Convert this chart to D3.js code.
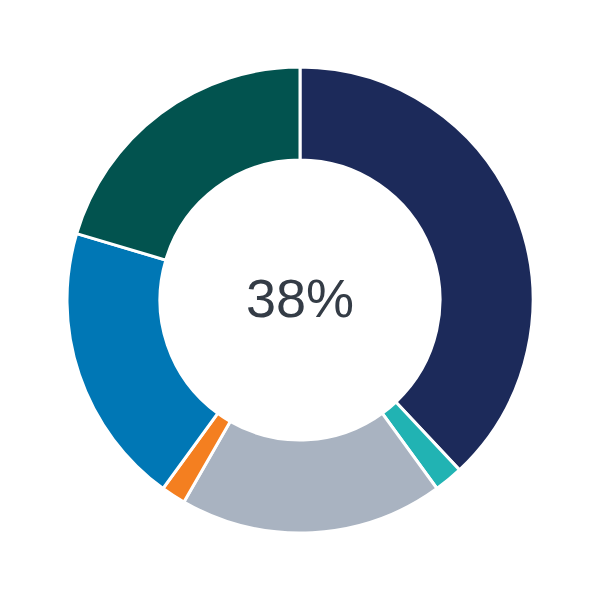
<!DOCTYPE html>
<html><head><meta charset="utf-8">
<script src="https://cdn.jsdelivr.net/npm/d3@7"></script>
<style>body{margin:0;background:#fff}</style>
</head><body>
<svg id="c" width="600" height="600"></svg>
<script>
const categories = ["A","B","C","D","E","F"];
const values = [38, 2, 18.3, 1.7, 19.6, 20.4];
const colors = ["#1c2a5a","#21b3b3","#a9b3c1","#f47f20","#0077b5","#02534f"];
const centerLabel = "38%";

const svg = d3.select("#c");
const g = svg.append("g").attr("transform","translate(300,300)");
const pie = d3.pie().sort(null).value(d=>d.v);
const arc = d3.arc().innerRadius(140).outerRadius(233);
const data = categories.map((c,i)=>({c, v: values[i], col: colors[i]}));
g.selectAll("path").data(pie(data)).join("path")
  .attr("d", arc).attr("fill", d=>d.data.col)
  .attr("stroke","#fff").attr("stroke-width",3);
g.append("text").attr("text-anchor","middle").attr("y",17)
  .attr("font-family","Liberation Sans, Arial, sans-serif").attr("font-size",54)
  .attr("fill","#343c46").text(centerLabel);
</script>
</body></html>
